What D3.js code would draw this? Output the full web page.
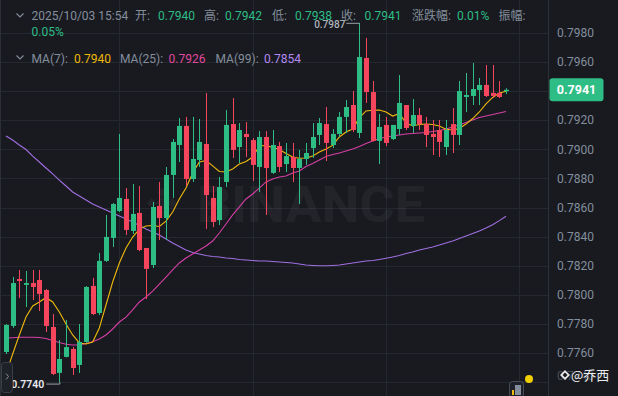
<!DOCTYPE html>
<html><head><meta charset="utf-8">
<script src="https://cdn.jsdelivr.net/npm/d3@7"></script>
<style>
html,body{margin:0;padding:0;background:#181a20;overflow:hidden}
svg{display:block}
</style></head><body>
<svg id="c" width="618" height="396"></svg>
<script>
// ---- data ----
const opens = [0.77607,0.77786,0.78109,0.78068,0.78081,0.78102,0.78033,0.77779,0.77463,0.77573,
0.77628,0.77518,0.77676,0.78061,0.77875,0.78233,0.78391,0.78576,0.78659,0.78439,
0.78563,0.78322,0.78205,0.78611,0.78528,0.78824,0.79030,0.79161,0.78796,0.78927,
0.79037,0.78666,0.78514,0.78776,0.79174,0.79016,0.79106,0.79064,0.78879,0.79085,
0.78838,0.79023,0.78899,0.78948,0.78872,0.78934,0.79009,0.79099,0.79174,0.79030,
0.79106,0.79223,0.79305,0.79113,0.79628,0.79394,0.79058,0.79168,0.79071,0.79140,
0.79305,0.79161,0.79236,0.79174,0.79106,0.79133,0.79016,0.79174,0.79099,0.79360,
0.79367,0.79408,0.79443,0.79388,0.79388,0.7940];
const highs = [0.77799,0.78123,0.78171,0.78164,0.78171,0.78171,0.78040,0.77868,0.77689,0.77827,
0.77641,0.77799,0.78060,0.78116,0.78288,0.78549,0.78631,0.79106,0.78734,0.78762,
0.78748,0.78322,0.78638,0.78776,0.78879,0.79071,0.79216,0.79223,0.79223,0.79209,
0.79388,0.78748,0.78810,0.79271,0.79353,0.79181,0.79188,0.79078,0.79126,0.79126,
0.79133,0.79051,0.79044,0.79044,0.78996,0.79044,0.79181,0.79216,0.79291,0.79140,
0.79257,0.79339,0.79401,0.7987,0.79766,0.79470,0.79243,0.79223,0.79168,0.79511,
0.79305,0.79346,0.79284,0.79223,0.79202,0.79202,0.79202,0.79284,0.79470,0.79525,
0.79594,0.79491,0.79580,0.79580,0.79470,0.7942];
const lows = [0.77593,0.77772,0.77978,0.77916,0.77964,0.77889,0.77744,0.77449,0.7740,0.77570,
0.77449,0.77463,0.77669,0.77861,0.77861,0.78226,0.78329,0.78569,0.78411,0.78418,
0.78301,0.77971,0.78184,0.78377,0.78377,0.78666,0.78913,0.78748,0.78776,0.78879,
0.78453,0.78466,0.78480,0.78741,0.78941,0.78906,0.78948,0.78783,0.78707,0.78549,
0.78831,0.78844,0.78844,0.78776,0.78624,0.78893,0.78941,0.79030,0.78920,0.79009,
0.79085,0.79113,0.79119,0.79078,0.79319,0.79055,0.78899,0.79023,0.79064,0.79099,
0.79133,0.79113,0.79133,0.79016,0.78961,0.78948,0.78961,0.78975,0.79030,0.79257,
0.79305,0.79305,0.79360,0.79353,0.79353,0.7938];
const closes = [0.77793,0.78081,0.78095,0.78081,0.78054,0.78006,0.77786,0.77456,0.77559,0.77641,
0.77497,0.77676,0.78054,0.77868,0.78233,0.78398,0.78624,0.78666,0.78446,0.78556,
0.78308,0.78178,0.78604,0.78528,0.78824,0.79051,0.79161,0.78796,0.78934,0.79051,
0.78686,0.78501,0.78741,0.79168,0.78996,0.79133,0.79085,0.78893,0.79085,0.78872,
0.79030,0.78879,0.78954,0.78872,0.78934,0.78975,0.79085,0.79181,0.79044,0.79106,
0.79223,0.79291,0.79133,0.79635,0.79394,0.79058,0.79154,0.79044,0.79168,0.79319,
0.79147,0.79236,0.79174,0.79099,0.79085,0.79051,0.79133,0.79099,0.79401,0.79374,
0.79415,0.79443,0.79367,0.79367,0.79360,0.7941];
const ma7 = [0.77456,0.77593,0.77724,0.77847,0.77923,0.77951,0.77982,0.77951,0.77882,0.77799,
0.77724,0.77669,0.77662,0.77676,0.77772,0.77930,0.78088,0.78219,0.78322,0.78397,
0.78452,0.78473,0.78477,0.78470,0.78507,0.78569,0.78659,0.78734,0.78837,0.78913,
0.78923,0.78886,0.78848,0.78844,0.78865,0.78899,0.78917,0.78947,0.79023,0.79027,
0.79013,0.78999,0.78972,0.78947,0.78939,0.78941,0.78954,0.78982,0.79002,0.79027,
0.79085,0.79119,0.79140,0.79216,0.79264,0.79269,0.79271,0.79257,0.79229,0.79247,
0.79181,0.79161,0.79171,0.79174,0.79171,0.79161,0.79138,0.79133,0.79143,0.79174,
0.79212,0.79257,0.79312,0.79357,0.79387,0.7940];
const ma25 = [0.77703,0.77705,0.77708,0.77708,0.77708,0.77707,0.77700,0.77686,0.77672,0.77660,
0.77655,0.77655,0.77665,0.77677,0.77696,0.77724,0.77765,0.77813,0.77847,0.77896,
0.77951,0.77985,0.78026,0.78074,0.78122,0.78171,0.78219,0.78253,0.78281,0.78308,
0.78336,0.78370,0.78425,0.78487,0.78549,0.78604,0.78659,0.78693,0.78734,0.78776,
0.78796,0.78810,0.78817,0.78837,0.78851,0.78882,0.78903,0.78927,0.78951,0.78965,
0.78975,0.78989,0.79002,0.79020,0.79040,0.79057,0.79075,0.79085,0.79092,0.79099,
0.79106,0.79109,0.79112,0.79116,0.79123,0.79130,0.79140,0.79154,0.79167,0.79185,
0.79202,0.79219,0.79229,0.79240,0.79250,0.7926];
const ma99 = [0.79092,0.79064,0.79030,0.78999,0.78954,0.78913,0.78872,0.78831,0.78789,0.78748,
0.78707,0.78679,0.78652,0.78624,0.78604,0.78583,0.78562,0.78542,0.78521,0.78501,
0.78477,0.78452,0.78432,0.78411,0.78384,0.78356,0.78332,0.78308,0.78291,0.78281,
0.78270,0.78263,0.78260,0.78253,0.78250,0.78243,0.78239,0.78236,0.78232,0.78232,
0.78229,0.78226,0.78222,0.78219,0.78212,0.78205,0.78202,0.78200,0.78200,0.78202,
0.78205,0.78212,0.78219,0.78226,0.78232,0.78236,0.78243,0.78251,0.78260,0.78270,
0.78284,0.78294,0.78308,0.78318,0.78329,0.78342,0.78356,0.78370,0.78387,0.78404,
0.78422,0.78439,0.78459,0.78482,0.78510,0.7854];
const priceTicks = [0.7740,0.7760,0.7780,0.7800,0.7820,0.7840,0.7860,0.7880,0.7900,0.7920,0.7940,0.7960,0.7980];
const tickLabels = ["0.7740","0.7760","0.7780","0.7800","0.7820","0.7840","0.7860","0.7880","0.7900","0.7920","0.7940","0.7960","0.7980"];
const timeGridIdx = [17,37,57,77];
const timestamp = "2025/10/03 15:54";
const headerLabels = ["开","高","低","收","涨跌幅","振幅"];
const maNames = ["MA(7)","MA(25)","MA(99)"];

// ---- styles ----
const BG="#181a20", GRID="#24282f", TXT="#848e9c", UP="#2ebd85", DOWN="#f6465d";
const MA_COL=["#f0b90b","#d63fa4","#a06fe0"];
const MA_TXT=["#f0b90b","#e0479e","#b589f2"];
const FONT="Roboto, 'Liberation Sans', 'Noto Sans CJK SC', sans-serif";

const svg=d3.select("#c");
svg.append("rect").attr("width",618).attr("height",396).attr("fill",BG);

const x=d3.scaleLinear().domain([0,77]).range([6,519.33]);
const y=d3.scaleLinear().domain([0.7760,0.7980]).range([353,33]);
const plotR=548;
const last=closes.length-1;

// grid
const g=svg.append("g");
g.selectAll("line.h").data(priceTicks).join("line").attr("class","h")
 .attr("x1",0).attr("x2",plotR).attr("y1",d=>Math.round(y(d))+0.5).attr("y2",d=>Math.round(y(d))+0.5)
 .attr("stroke",GRID).attr("stroke-width",1);
g.selectAll("line.v").data(timeGridIdx).join("line").attr("class","v")
 .attr("y1",0).attr("y2",396).attr("x1",d=>Math.round(x(d))+0.5).attr("x2",d=>Math.round(x(d))+0.5)
 .attr("stroke",GRID).attr("stroke-width",1);
g.append("line").attr("x1",0.5).attr("x2",0.5).attr("y1",0).attr("y2",396).attr("stroke","#2b2f36");
g.append("line").attr("x1",plotR+0.5).attr("x2",plotR+0.5).attr("y1",0).attr("y2",396).attr("stroke","#2b3139");

// BINANCE watermark
const wm=svg.append("g").attr("opacity",0.045);
const lc=[162,203], s=7;
[[0,0,1.3],[0,-2.7,1],[0,2.7,1],[-2.7,0,1],[2.7,0,1]].forEach(([dx,dy,k])=>{
  wm.append("rect").attr("x",-s*k/2).attr("y",-s*k/2).attr("width",s*k).attr("height",s*k)
   .attr("transform",`translate(${lc[0]+dx*s*0.55},${lc[1]+dy*s*0.55}) rotate(45)`).attr("fill","#fff");
});
wm.append("text").attr("x",197).attr("y",222).attr("font-family",FONT).attr("font-weight",700)
 .attr("font-size",50).attr("textLength",228).attr("lengthAdjust","spacingAndGlyphs").attr("fill","#fff").text("BINANCE");

// MA lines
const idx=d3.range(closes.length);
[ma99,ma25,ma7].forEach((arr,k)=>{
  const col=[MA_COL[2],MA_COL[1],MA_COL[0]][k];
  svg.append("path").datum(idx).attr("fill","none").attr("stroke",col).attr("stroke-width",1.1)
   .attr("d",d3.line().x(i=>x(i)).y(i=>y(arr[i])));
});

// candles
const cg=svg.append("g");
idx.forEach(i=>{
  const up=closes[i]>=opens[i], col=up?UP:DOWN;
  const cx=Math.round(x(i));
  cg.append("line").attr("x1",cx+0.5).attr("x2",cx+0.5).attr("y1",y(highs[i])).attr("y2",y(lows[i]))
    .attr("stroke",col).attr("stroke-width",1);
  const t=y(Math.max(opens[i],closes[i])), b=y(Math.min(opens[i],closes[i]));
  cg.append("rect").attr("x",cx-2).attr("width",5).attr("y",t).attr("height",Math.max(1,b-t)).attr("fill",col);
});

// high / low markers
const hi=d3.maxIndex(highs), lo=d3.minIndex(lows);
const fmt=d3.format(".4f");
svg.append("line").attr("x1",x(hi)).attr("x2",x(hi)-13).attr("y1",y(highs[hi])+0.5).attr("y2",y(highs[hi])+0.5).attr("stroke","#9aa0a8");
svg.append("text").attr("x",x(hi)-14).attr("y",y(highs[hi])+1.5).attr("dy","0.35em").attr("text-anchor","end")
 .attr("font-family",FONT).attr("font-size",10).attr("font-weight",500).attr("fill","#aeb4bc").text(fmt(highs[hi]));
svg.append("line").attr("x1",x(lo)+0.5).attr("x2",x(lo)+0.5).attr("y1",y(lows[lo])).attr("y2",y(lows[lo])+2).attr("stroke","#9aa0a8");
svg.append("line").attr("x1",x(lo)+0.5).attr("x2",x(lo)-13).attr("y1",y(lows[lo])+2).attr("y2",y(lows[lo])+2).attr("stroke","#9aa0a8");
svg.append("text").attr("x",x(lo)-15).attr("y",y(lows[lo])+2).attr("dy","0.35em").attr("text-anchor","end")
 .attr("font-family",FONT).attr("font-size",10.5).attr("font-weight",600).attr("fill","#eaecef").text(fmt(lows[lo]));

// left expand button
svg.append("rect").attr("x",1.5).attr("y",362.5).attr("width",11).attr("height",30).attr("rx",3)
 .attr("fill","#1e2128").attr("stroke","#3a3f47");
svg.append("path").attr("d","M6,373.5 L8.5,376.5 L6,379.5").attr("fill","none").attr("stroke","#848e9c").attr("stroke-width",1);

// y axis labels (the one under the live price tag is covered by it)
const yLast=y(closes[last]);
svg.append("g").selectAll("text").data(priceTicks.filter(d=>Math.abs(y(d)-yLast)>12)).join("text")
 .attr("x",557).attr("y",d=>Math.min(y(d),376)).attr("dy","0.35em")
 .attr("font-family",FONT).attr("font-size",12).attr("fill",TXT)
 .attr("opacity",d=>y(d)>376?0.45:1)
 .text(d=>tickLabels[priceTicks.indexOf(d)]);

// current price tag
svg.append("rect").attr("x",549.5).attr("y",yLast-11.5).attr("width",54).attr("height",23).attr("rx",3).attr("fill",UP);
svg.append("text").attr("x",576.5).attr("y",yLast).attr("dy","0.36em").attr("text-anchor","middle")
 .attr("font-family",FONT).attr("font-size",12.5).attr("font-weight",700).attr("fill","#fff").text(fmt(closes[last]));

// header
const pct=d3.format(".2%");
const chg=(closes[last]-opens[last])/opens[last];
const amp=(highs[last]-lows[last])/opens[last];
const hv=[fmt(opens[last]),fmt(highs[last]),fmt(lows[last]),fmt(closes[last]),pct(chg),pct(amp)];
const H=svg.append("g").attr("font-family",FONT).attr("font-size",12);
function chev(cy){H.append("path").attr("d",`M16.5,${cy-2} L20,${cy+1.5} L23.5,${cy-2}`).attr("fill","none").attr("stroke",TXT).attr("stroke-width",1.1);}
chev(15.5); chev(57.5);
H.append("text").attr("x",31.5).attr("y",19.5).attr("fill",TXT).text(timestamp);
const lx=[135,204,272,341,412,498.5], vx=[158,225,295,364.5,457,null];
headerLabels.forEach((l,i)=>{
  H.append("text").attr("x",lx[i]).attr("y",19.5).attr("fill",TXT).text(l+":");
  if(vx[i]!==null) H.append("text").attr("x",vx[i]).attr("y",19.5).attr("fill",UP).text(hv[i]);
});
H.append("text").attr("x",31.5).attr("y",36).attr("fill",UP).text(hv[5]);
const maLast=[ma7[last],ma25[last],ma99[last]];
const mlx=[31.5,120,215.5], mvx=[74,168.5,264];
maNames.forEach((n,i)=>{
  H.append("text").attr("x",mlx[i]).attr("y",62.5).attr("fill",TXT).text(n+":");
  H.append("text").attr("x",mvx[i]).attr("y",62.5).attr("fill",MA_TXT[i]).text(fmt(maLast[i]));
});

// bottom right widgets
svg.append("rect").attr("x",509.5).attr("y",381.5).attr("width",14).attr("height",16).attr("rx",3).attr("fill","#1e2128").attr("stroke","#474d57");
svg.append("rect").attr("x",515).attr("y",385).attr("width",6).attr("height",10).attr("fill","#848e9c");
svg.append("rect").attr("x",512).attr("y",390).attr("width",2).attr("height",5).attr("fill","#f0b90b");
svg.append("circle").attr("cx",529).attr("cy",379).attr("r",4).attr("fill","#f0d000");
const wmk=svg.append("g");
wmk.append("path").attr("d","M565,370 L570,375 L565,380 L560,375 Z M565,372.5 L567.5,375 L565,377.5 L562.5,375 Z")
 .attr("fill","#ffffff").attr("fill-rule","evenodd").attr("opacity",0.9);
wmk.append("text").attr("x",571).attr("y",380).attr("font-family","'Noto Sans CJK SC', sans-serif").attr("font-size",13)
 .attr("fill","#ffffff").attr("opacity",0.92).text("@乔西");
</script>
</body></html>
